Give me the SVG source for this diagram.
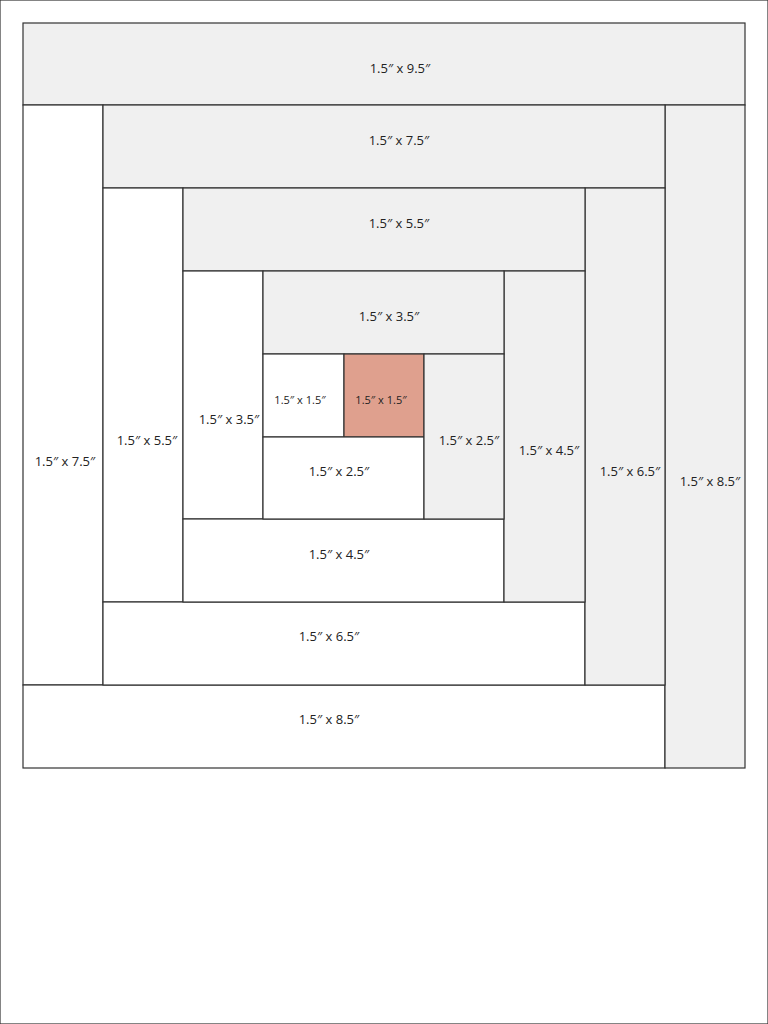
<svg xmlns="http://www.w3.org/2000/svg" width="768" height="1024" viewBox="0 0 768 1024">
<style>
rect{stroke:#333;stroke-width:1.2}
.g{fill:#f0f0f0}.w{fill:#fff}.s{fill:#dfa08e}
text{font-family:"Open Sans","Liberation Sans",sans-serif;font-size:13px;fill:#222;text-anchor:middle;dominant-baseline:middle}
.sm{font-size:11px}
</style>
<rect x="0" y="0" width="768" height="1024" fill="#fff" stroke="none"/>
<g id="p1"><rect class="g" x="23" y="23" width="722" height="82"/><text x="400" y="70">1.5″ x 9.5″</text></g>
<g id="p2"><rect class="w" x="23" y="105" width="80" height="580"/><text x="65" y="463">1.5″ x 7.5″</text></g>
<g id="p3"><rect class="w" x="23" y="685" width="642" height="83"/><text x="329" y="721">1.5″ x 8.5″</text></g>
<g id="p4"><rect class="g" x="665" y="105" width="80" height="663"/><text x="710" y="483">1.5″ x 8.5″</text></g>
<g id="p5"><rect class="g" x="103" y="105" width="562" height="83"/><text x="399" y="142">1.5″ x 7.5″</text></g>
<g id="p6"><rect class="w" x="103" y="188" width="80" height="414"/><text x="147" y="442">1.5″ x 5.5″</text></g>
<g id="p7"><rect class="w" x="103" y="602" width="482" height="83"/><text x="329" y="638">1.5″ x 6.5″</text></g>
<g id="p8"><rect class="g" x="585" y="188" width="80" height="497"/><text x="630" y="473">1.5″ x 6.5″</text></g>
<g id="p9"><rect class="g" x="183" y="188" width="402" height="83"/><text x="399" y="225">1.5″ x 5.5″</text></g>
<g id="p10"><rect class="w" x="183" y="271" width="80" height="248"/><text x="229" y="421">1.5″ x 3.5″</text></g>
<g id="p11"><rect class="w" x="183" y="519" width="321" height="83"/><text x="339" y="556">1.5″ x 4.5″</text></g>
<g id="p12"><rect class="g" x="504" y="271" width="81" height="331"/><text x="549" y="452">1.5″ x 4.5″</text></g>
<g id="p13"><rect class="g" x="263" y="271" width="241" height="83"/><text x="389" y="318">1.5″ x 3.5″</text></g>
<g id="p14"><rect class="w" x="263" y="354" width="81" height="83"/><text class="sm" x="300" y="401">1.5″ x 1.5″</text></g>
<g id="p15"><rect class="s" x="344" y="354" width="80" height="83"/><text class="sm" x="381" y="401">1.5″ x 1.5″</text></g>
<g id="p16"><rect class="w" x="263" y="437" width="161" height="82"/><text x="339" y="473">1.5″ x 2.5″</text></g>
<g id="p17"><rect class="g" x="424" y="354" width="80" height="165"/><text x="469" y="442">1.5″ x 2.5″</text></g>
<g id="connectors"/>
</svg>
